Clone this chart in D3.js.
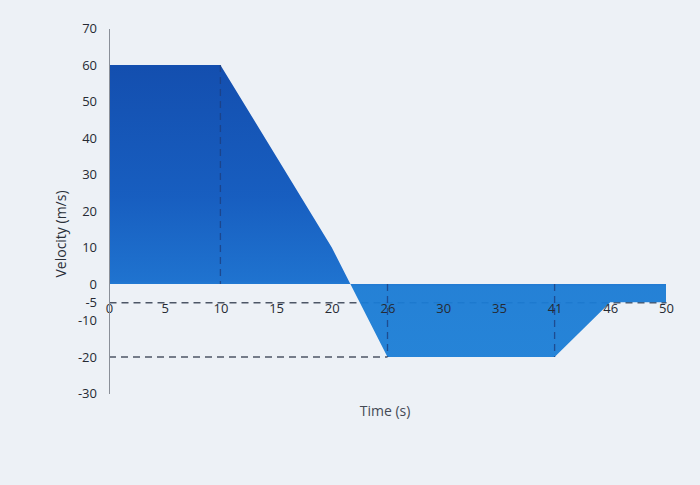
<!DOCTYPE html>
<html>
<head>
<meta charset="utf-8">
<script src="https://cdn.jsdelivr.net/npm/d3@7"></script>
<style>
  html, body { margin: 0; padding: 0; background: #edf1f6; }
  svg { display: block; }
  text { font-family: "Open Sans", "Liberation Sans", sans-serif; }
</style>
</head>
<body>
<svg id="chart" width="700" height="485"></svg>
<script>
// ---- data ----
const xTickLabels = ["0", "5", "10", "15", "20", "26", "30", "35", "41", "46", "50"];
const yTickValues = [70, 60, 50, 40, 30, 20, 10, 0, -5, -10, -20, -30];
const times = ["0", "10", "20", "26", "41", "46", "50"];
const velocities = [60, 60, 10, -20, -20, -5, -5];
const verticalGuideTimes = ["10", "26", "41"];
const verticalGuideFrom = [60, 0, 0];
const verticalGuideTo = [0, -20, -20];
const horizontalGuideValue = [-20];
const horizontalGuideEnd = ["26"];
const xTitle = "Time (s)";
const yTitle = "Velocity (m/s)";

// ---- chart ----
const svg = d3.select("#chart");
const x = d3.scalePoint().domain(xTickLabels).range([109, 666]);
const y = d3.scaleLinear().domain([-30, 70]).range([393.5, 28.5]);

const points = times.map((t, i) => ({ t, v: velocities[i] }));

svg.append("rect").attr("width", 700).attr("height", 485).attr("fill", "#edf1f6");

const defs = svg.append("defs");
const grad = defs.append("linearGradient")
  .attr("id", "areaGrad")
  .attr("gradientUnits", "userSpaceOnUse")
  .attr("x1", 0).attr("x2", 0)
  .attr("y1", y(60)).attr("y2", y(-20));
grad.append("stop").attr("offset", 0).attr("stop-color", "#0846ab");
grad.append("stop").attr("offset", 0.45).attr("stop-color", "#0c56bd");
grad.append("stop").attr("offset", 0.74).attr("stop-color", "#146ccd");
grad.append("stop").attr("offset", 0.76).attr("stop-color", "#1a7bd4");
grad.append("stop").attr("offset", 1).attr("stop-color", "#1b7ed6");

const dashStyle = sel => sel
  .attr("stroke", "#4d5666")
  .attr("stroke-width", 1.3)
  .attr("stroke-dasharray", "7,5")
  .attr("fill", "none");

// x axis along v = -5 (dashed), drawn beneath the area
const xAxis = svg.append("g")
  .attr("transform", `translate(0,${y(-5)})`)
  .call(d3.axisBottom(x).tickSize(0).tickPadding(2));
xAxis.select(".domain")
  .attr("stroke", "#4d5666")
  .attr("stroke-width", 1.3)
  .attr("stroke-dasharray", "7,5");
xAxis.selectAll(".tick").remove();

const area = d3.area()
  .x(d => x(d.t))
  .y0(y(0))
  .y1(d => y(d.v));

svg.append("path")
  .datum(points)
  .attr("d", area)
  .attr("fill", "url(#areaGrad)")
  .attr("fill-opacity", 0.95);

svg.selectAll("line.vguide")
  .data(verticalGuideTimes)
  .join("line")
  .attr("class", "vguide")
  .attr("x1", d => x(d)).attr("x2", d => x(d))
  .attr("y1", (d, i) => y(verticalGuideFrom[i]))
  .attr("y2", (d, i) => y(verticalGuideTo[i]))
  .call(dashStyle)
  .attr("stroke", "#1d3f80")
  .attr("stroke-opacity", 0.8);

svg.selectAll("line.hguide")
  .data(horizontalGuideValue)
  .join("line")
  .attr("class", "hguide")
  .attr("x1", x("0"))
  .attr("x2", (d, i) => x(horizontalGuideEnd[i]))
  .attr("y1", d => y(d)).attr("y2", d => y(d))
  .call(dashStyle);

// x tick labels above the area
const xLabels = svg.append("g")
  .attr("transform", `translate(0,${y(-5)})`)
  .call(d3.axisBottom(x).tickSize(0).tickPadding(2));
xLabels.select(".domain").remove();
xLabels.selectAll("text")
  .attr("font-size", 13)
  .attr("fill", "#262a33")
  .attr("font-family", "'Open Sans', 'Liberation Sans', sans-serif");

// y axis
const yAxis = svg.append("g")
  .attr("transform", `translate(${x("0")},0)`)
  .call(d3.axisLeft(y).tickValues(yTickValues).tickFormat(d => String(d)).tickSize(0).tickPadding(12));
yAxis.select(".domain")
  .attr("stroke", "#8a8f98")
  .attr("stroke-width", 1);
yAxis.selectAll("text")
  .attr("font-size", 13)
  .attr("fill", "#262a33")
  .attr("font-family", "'Open Sans', 'Liberation Sans', sans-serif");

svg.append("text")
  .attr("x", 385).attr("y", 416)
  .attr("text-anchor", "middle")
  .attr("font-size", 14)
  .attr("fill", "#444a55")
  .text(xTitle);

svg.append("text")
  .attr("transform", `translate(66,234) rotate(-90)`)
  .attr("text-anchor", "middle")
  .attr("font-size", 14)
  .attr("fill", "#2a2f38")
  .text(yTitle);
</script>
</body>
</html>
